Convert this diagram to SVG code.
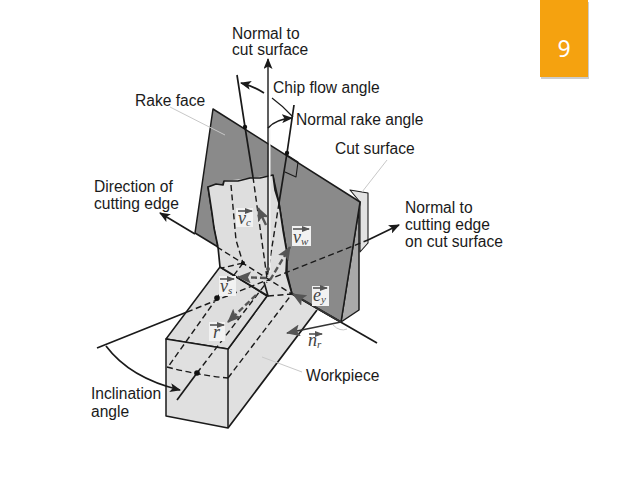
<svg xmlns="http://www.w3.org/2000/svg" width="638" height="478" viewBox="0 0 638 478">
<style>
.t{font-family:"Liberation Sans",Arial,sans-serif;font-size:15.6px;fill:#1a1a1a}
.s{fill:none;stroke:#1a1a1a;stroke-width:1.7;stroke-linejoin:round}
.e{stroke:#1a1a1a;stroke-width:1.5;stroke-linejoin:round}
.d{fill:none;stroke:#1a1a1a;stroke-width:1.4;stroke-dasharray:6 3.5}
.g{fill:none;stroke:#555;stroke-width:2.4;stroke-dasharray:6 3}
.l{fill:none;stroke:#c8c8c8;stroke-width:1}
.m{font-family:"Liberation Serif",serif;font-style:italic;font-size:18px;fill:#444}
.u{font-size:11px}
.o{fill:none;stroke:#555;stroke-width:1.6}
.b{fill:#f2f2f2}
</style>
<defs>
<marker id="a" markerUnits="userSpaceOnUse" markerWidth="11" markerHeight="9" refX="10" refY="4.5" orient="auto"><path d="M0 0L11 4.5L0 9L2.5 4.5Z" fill="#1a1a1a"/></marker>
<marker id="b" markerUnits="userSpaceOnUse" markerWidth="14" markerHeight="12" refX="13" refY="6" orient="auto"><path d="M0 0L14 6L0 12L3 6Z" fill="#555"/></marker>
<marker id="c" markerUnits="userSpaceOnUse" markerWidth="8" markerHeight="6" refX="7" refY="3" orient="auto"><path d="M0 0L8 3L0 6Z" fill="#555"/></marker>
</defs>
<rect width="638" height="478" fill="#fff"/>
<g id="badge">
<rect x="541" y="2" width="48" height="77" fill="#999" opacity=".5"/>
<rect x="540" y="0" width="48" height="77" fill="#f5a20f"/>
<text x="564" y="57" text-anchor="middle" font-family="'Noto Sans',sans-serif" font-size="23" fill="#fff">9</text>
</g>
<g id="cut-surface">
<path d="M350 190L368 193V243L360 252V202Z" fill="#e2e2e2" class="e" style="stroke-width:1.1"/>
<path d="M360 202L341 322L359 310V203Z" fill="#a9a9a9" class="e"/>
<path d="M213 109L360 202L341 322L292 294L287 273L287 253L279 203L273 176L208 187L212 213L218 247L195 233Z" fill="#8a8a8a" class="e"/>
<path d="M287 155L298 162L296 177L285 172" class="s" style="stroke-width:1.1"/>
</g>
<g id="workpiece">
<path d="M228 349L267 296L292 294L317 310L228 428Z" fill="#e0e0e0"/>
<path d="M228 349L267 296M317 310L228 428" class="s"/>
<path d="M166 339L220 267L267 296L228 349Z" fill="#dedede" class="e"/>
<path d="M166 339L228 349V428L166 416Z" fill="#e0e0e0" class="e"/>
</g>
<g id="chip">
<path d="M208 187L216 184L223 185L224 181L250 178L273 175L275 190L279 203L283 230L287 253L286 273L292 294L268 296L220 267L218 247L212 213Z" fill="#dedede"/>
<path d="M218 247L220 267M218 247L214 228L212 213L208 187L216 184L223 185L224 181L238 181L250 178L260 178L273 175L275 190L279 203L283 230L287 253L286 273L292 294M264 282L268 296L220 267" class="s"/>
</g>
<g id="connectors">
<path class="d" d="M217 247L292 294M187 312L368 240M253 177L267 278M279 203L267 278M231 185L236 240L243 263M243 263L222 268M243 263L217 298M217 298L168 367M197 373L267 282M228 378L292 294M268 296L292 294M167 367Q197 375 228 378"/>
<path class="s" d="M195 234L160 213" marker-end="url(#a)"/>
<path class="s" d="M292 294L377 343"/>
<path class="s" d="M97 348L187 312"/>
<path class="s" d="M368 240L399 225" marker-end="url(#a)"/>
<path d="M269.5 272V120" stroke="#f4f4f4" stroke-width="2" fill="none"/>
<path class="s" d="M268 272V59" marker-end="url(#a)" style="stroke-width:1.4"/>
<path class="s" d="M237 75L245 127L253 177"/>
<path class="s" d="M294 105L287 153L279 203"/>
<path class="s" d="M197 373L177 400"/>
<path class="s" d="M264 93Q253 86 241 83" marker-end="url(#a)"/>
<path class="s" d="M268 128Q276 119 292 118" marker-end="url(#a)"/>
<path class="s" d="M272 98Q283 106 293 117" style="stroke-width:1.2"/>
<path class="s" d="M106 346Q130 378 180 390" marker-end="url(#a)"/>
<path class="s" d="M341 322L287 333" style="stroke:#333" marker-end="url(#b)"/>
<path class="g" d="M266 225L258 208" marker-end="url(#b)" style="stroke-dasharray:none"/>
<path class="g" d="M270 280L290 247" marker-end="url(#b)"/>
<path class="g" d="M266 278L238 277" marker-end="url(#b)"/>
<path class="g" d="M256 295L228 322" marker-end="url(#b)"/>
<path d="M341 322L293 294" fill="none" stroke="#333" stroke-width="2" marker-end="url(#b)"/>
<circle cx="245" cy="127" r="2.2" fill="#111"/><circle cx="287" cy="153" r="2.2" fill="#111"/>
<circle cx="217" cy="298" r="2.8" fill="#111"/><circle cx="197" cy="373" r="2.8" fill="#111"/>
<circle cx="243" cy="263" r="2" fill="#111"/><circle cx="268" cy="269" r="2" fill="#555"/>
<path class="l" d="M170 107L225 135M387 160L362 192M262 357L302 372M333 325Q340 332 347 329"/>
</g>
<g id="vector-labels">
<rect x="236" y="208" width="17" height="19" class="b"/><text class="m" x="238" y="224">v<tspan class="u" dy="2">c</tspan></text><path class="o" d="M238 211H252" marker-end="url(#c)"/>
<rect x="292" y="226" width="19" height="20" class="b"/><text class="m" x="293" y="243">v<tspan class="u" dy="2">w</tspan></text><path class="o" d="M293 229H309" marker-end="url(#c)"/>
<rect x="219" y="276" width="17" height="20" class="b"/><text class="m" x="220" y="292">v<tspan class="u" dy="2">s</tspan></text><path class="o" d="M220 279H234" marker-end="url(#c)"/>
<rect x="209" y="322" width="16" height="19" class="b"/><text class="m" x="213" y="338">r</text><path class="o" d="M210 325H224" marker-end="url(#c)"/>
<rect x="312" y="286" width="17" height="20" class="b"/><text class="m" x="313" y="301">e<tspan class="u" dy="2">y</tspan></text><path class="o" d="M313 288H327" marker-end="url(#c)"/>
<text class="m" x="308" y="346">n<tspan class="u" dy="2">r</tspan></text><path class="o" d="M309 334H322" marker-end="url(#c)"/>
</g>
<g id="labels">
<text class="t" x="232" y="39">Normal to</text><text class="t" x="232" y="55">cut surface</text>
<text class="t" x="273" y="92.5">Chip flow angle</text>
<text class="t" x="135" y="105.5">Rake face</text>
<text class="t" x="296" y="125">Normal rake angle</text>
<text class="t" x="335" y="154">Cut surface</text>
<text class="t" x="94" y="192">Direction of</text><text class="t" x="94" y="209">cutting edge</text>
<text class="t" x="405" y="213">Normal to</text><text class="t" x="405" y="230">cutting edge</text><text class="t" x="405" y="246.5">on cut surface</text>
<text class="t" x="306" y="381">Workpiece</text>
<text class="t" x="91" y="399">Inclination</text><text class="t" x="91" y="417">angle</text>
</g>
</svg>
